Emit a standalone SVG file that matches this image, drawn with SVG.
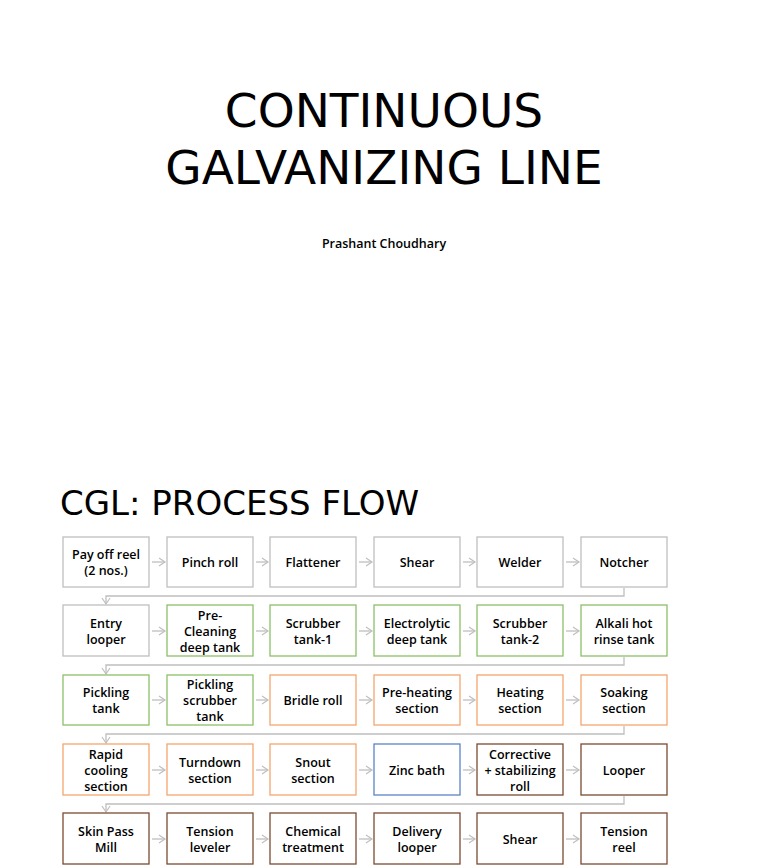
<svg xmlns="http://www.w3.org/2000/svg" width="768" height="866" viewBox="0 0 768 866">
<style>
.b{fill:#fff;stroke-width:1.3}
.g{stroke:#bfbfbf}.gr{stroke:#8cc068}.o{stroke:#f4a66e}.bl{stroke:#5b86c6}.br{stroke:#7b4a30}
.t{font-family:"Open Sans","Liberation Sans",sans-serif;font-size:12.5px;font-weight:600;text-anchor:middle;fill:#000}
.c{fill:none;stroke:#bfbfbf;stroke-width:1.3;marker-end:url(#a)}
.h{font-family:"DejaVu Sans",sans-serif;fill:#000}
</style>
<defs><marker id="a" markerWidth="10" markerHeight="10" refX="7" refY="5" orient="auto" markerUnits="userSpaceOnUse"><path d="M1,1 L7,5 L1,9" fill="none" stroke="#bfbfbf" stroke-width="1.2"/></marker></defs>
<rect width="768" height="866" fill="#fff"/>
<text class="h" x="384" y="127" font-size="47" text-anchor="middle">CONTINUOUS</text>
<text class="h" x="384" y="184" font-size="47" text-anchor="middle">GALVANIZING LINE</text>
<text class="t" x="384" y="248" font-size="15">Prashant Choudhary</text>
<text class="h" x="60" y="515" font-size="34">CGL: PROCESS FLOW</text>
<g id="connectors">
<path class="c" d="M152,562H165"/><path class="c" d="M256,562H268"/><path class="c" d="M359,562H372"/><path class="c" d="M463,562H475"/><path class="c" d="M566,562H579"/>
<path class="c" d="M152,631H165"/><path class="c" d="M256,631H268"/><path class="c" d="M359,631H372"/><path class="c" d="M463,631H475"/><path class="c" d="M566,631H579"/>
<path class="c" d="M152,700H165"/><path class="c" d="M256,700H268"/><path class="c" d="M359,700H372"/><path class="c" d="M463,700H475"/><path class="c" d="M566,700H579"/>
<path class="c" d="M152,770H165"/><path class="c" d="M256,770H268"/><path class="c" d="M359,770H372"/><path class="c" d="M463,770H475"/><path class="c" d="M566,770H579"/>
<path class="c" d="M152,839H165"/><path class="c" d="M256,839H268"/><path class="c" d="M359,839H372"/><path class="c" d="M463,839H475"/><path class="c" d="M566,839H579"/>
<path class="c" d="M624,588V596H106V604"/>
<path class="c" d="M624,657V665H106V674"/>
<path class="c" d="M624,726V734H106V743"/>
<path class="c" d="M624,796V804H106V812"/>
</g>
<g id="n1"><rect class="b g" x="63" y="537" width="86" height="50"/><text class="t" x="106" y="559">Pay off reel</text><text class="t" x="106" y="575">(2 nos.)</text></g>
<g id="n2"><rect class="b g" x="167" y="537" width="86" height="50"/><text class="t" x="210" y="567">Pinch roll</text></g>
<g id="n3"><rect class="b g" x="270" y="537" width="86" height="50"/><text class="t" x="313" y="567">Flattener</text></g>
<g id="n4"><rect class="b g" x="374" y="537" width="86" height="50"/><text class="t" x="417" y="567">Shear</text></g>
<g id="n5"><rect class="b g" x="477" y="537" width="86" height="50"/><text class="t" x="520" y="567">Welder</text></g>
<g id="n6"><rect class="b g" x="581" y="537" width="86" height="50"/><text class="t" x="624" y="567">Notcher</text></g>
<g id="n7"><rect class="b g" x="63" y="605" width="86" height="51"/><text class="t" x="106" y="628">Entry</text><text class="t" x="106" y="644">looper</text></g>
<g id="n8"><rect class="b gr" x="167" y="605" width="86" height="51"/><text class="t" x="210" y="620">Pre-</text><text class="t" x="210" y="636">Cleaning</text><text class="t" x="210" y="652">deep tank</text></g>
<g id="n9"><rect class="b gr" x="270" y="605" width="86" height="51"/><text class="t" x="313" y="628">Scrubber</text><text class="t" x="313" y="644">tank-1</text></g>
<g id="n10"><rect class="b gr" x="374" y="605" width="86" height="51"/><text class="t" x="417" y="628">Electrolytic</text><text class="t" x="417" y="644">deep tank</text></g>
<g id="n11"><rect class="b gr" x="477" y="605" width="86" height="51"/><text class="t" x="520" y="628">Scrubber</text><text class="t" x="520" y="644">tank-2</text></g>
<g id="n12"><rect class="b gr" x="581" y="605" width="86" height="51"/><text class="t" x="624" y="628">Alkali hot</text><text class="t" x="624" y="644">rinse tank</text></g>
<g id="n13"><rect class="b gr" x="63" y="675" width="86" height="50"/><text class="t" x="106" y="697">Pickling</text><text class="t" x="106" y="713">tank</text></g>
<g id="n14"><rect class="b gr" x="167" y="675" width="86" height="50"/><text class="t" x="210" y="689">Pickling</text><text class="t" x="210" y="705">scrubber</text><text class="t" x="210" y="721">tank</text></g>
<g id="n15"><rect class="b o" x="270" y="675" width="86" height="50"/><text class="t" x="313" y="705">Bridle roll</text></g>
<g id="n16"><rect class="b o" x="374" y="675" width="86" height="50"/><text class="t" x="417" y="697">Pre-heating</text><text class="t" x="417" y="713">section</text></g>
<g id="n17"><rect class="b o" x="477" y="675" width="86" height="50"/><text class="t" x="520" y="697">Heating</text><text class="t" x="520" y="713">section</text></g>
<g id="n18"><rect class="b o" x="581" y="675" width="86" height="50"/><text class="t" x="624" y="697">Soaking</text><text class="t" x="624" y="713">section</text></g>
<g id="n19"><rect class="b o" x="63" y="744" width="86" height="51"/><text class="t" x="106" y="759">Rapid</text><text class="t" x="106" y="775">cooling</text><text class="t" x="106" y="791">section</text></g>
<g id="n20"><rect class="b o" x="167" y="744" width="86" height="51"/><text class="t" x="210" y="767">Turndown</text><text class="t" x="210" y="783">section</text></g>
<g id="n21"><rect class="b o" x="270" y="744" width="86" height="51"/><text class="t" x="313" y="767">Snout</text><text class="t" x="313" y="783">section</text></g>
<g id="n22"><rect class="b bl" x="374" y="744" width="86" height="51"/><text class="t" x="417" y="775">Zinc bath</text></g>
<g id="n23"><rect class="b br" x="477" y="744" width="86" height="51"/><text class="t" x="520" y="759">Corrective</text><text class="t" x="520" y="775">+ stabilizing</text><text class="t" x="520" y="791">roll</text></g>
<g id="n24"><rect class="b br" x="581" y="744" width="86" height="51"/><text class="t" x="624" y="775">Looper</text></g>
<g id="n25"><rect class="b br" x="63" y="813" width="86" height="51"/><text class="t" x="106" y="836">Skin Pass</text><text class="t" x="106" y="852">Mill</text></g>
<g id="n26"><rect class="b br" x="167" y="813" width="86" height="51"/><text class="t" x="210" y="836">Tension</text><text class="t" x="210" y="852">leveler</text></g>
<g id="n27"><rect class="b br" x="270" y="813" width="86" height="51"/><text class="t" x="313" y="836">Chemical</text><text class="t" x="313" y="852">treatment</text></g>
<g id="n28"><rect class="b br" x="374" y="813" width="86" height="51"/><text class="t" x="417" y="836">Delivery</text><text class="t" x="417" y="852">looper</text></g>
<g id="n29"><rect class="b br" x="477" y="813" width="86" height="51"/><text class="t" x="520" y="844">Shear</text></g>
<g id="n30"><rect class="b br" x="581" y="813" width="86" height="51"/><text class="t" x="624" y="836">Tension</text><text class="t" x="624" y="852">reel</text></g>
</svg>
